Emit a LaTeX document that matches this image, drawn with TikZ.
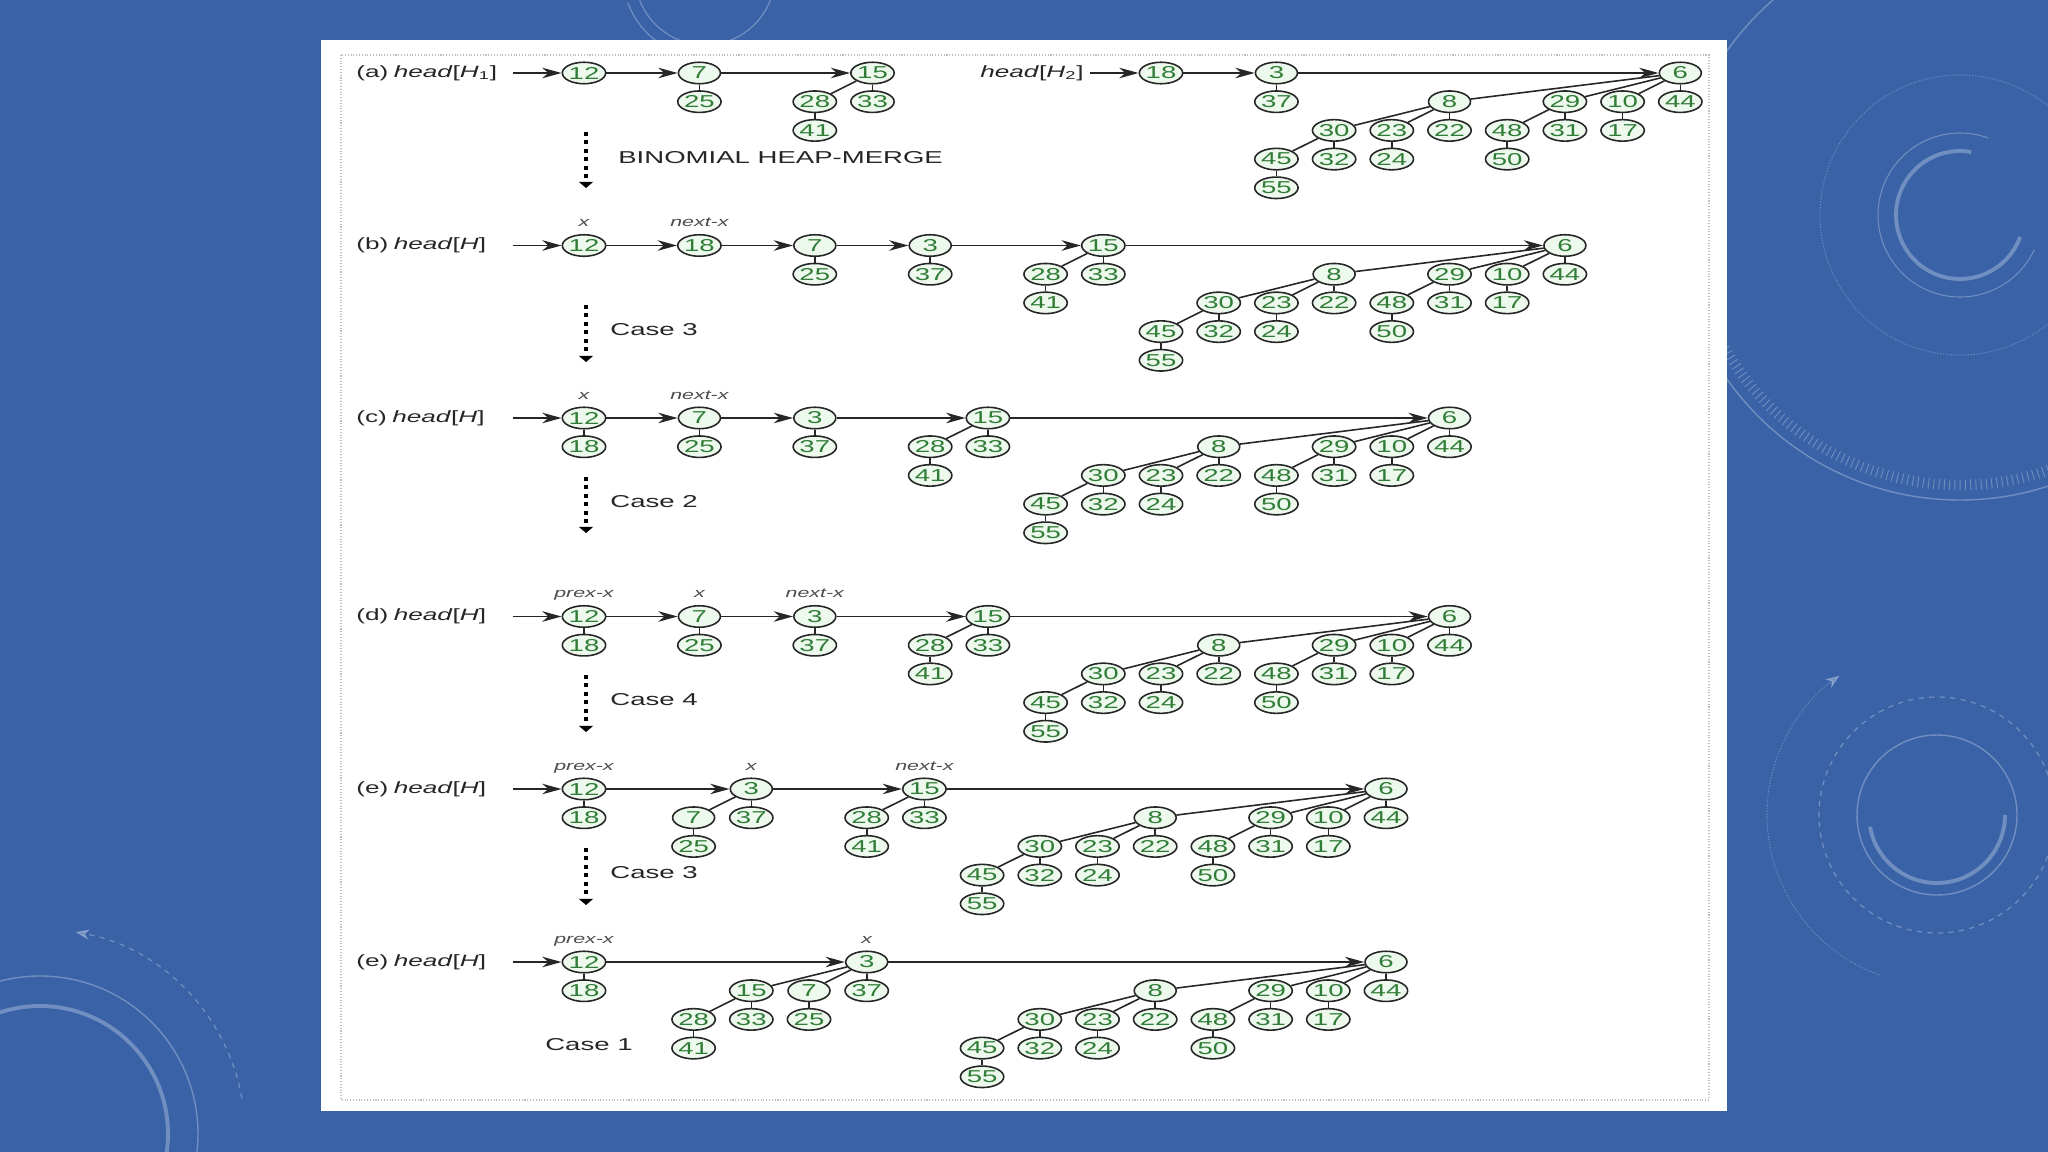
\documentclass[tikz,border=0pt]{standalone}
\usepackage{fontspec}
\setmainfont{Liberation Sans}[FakeStretch=1.6]
\usepackage{tikz}
\usetikzlibrary{positioning}
\usetikzlibrary{shapes.geometric}
\usetikzlibrary{arrows.meta}
\usepackage{xcolor}

\definecolor{slideblue}{RGB}{58,99,167}
\definecolor{keygreen}{RGB}{48,125,55}
\definecolor{keyfill}{RGB}{238,249,238}

\tikzset{
  key/.style={ellipse, draw=black!85, line width=0.9pt, fill=keyfill, text=keygreen,
    minimum width=0.84cm, minimum height=0.43cm, inner sep=0pt,
    font=\fontsize{9.8}{10}\selectfont},
  link/.style={draw=black!85, line width=0.9pt},
  next/.style={link, -{Stealth[length=11pt,width=6pt,inset=3.5pt]}},
  head/.style={anchor=west, text width=3cm, align=left, inner sep=0.12cm,
    font=\fontsize{9.3}{10}\selectfont, text=black!85},
  headtwo/.style={anchor=east, inner sep=0.12cm,
    font=\fontsize{9.3}{10}\selectfont, text=black!85},
  ptr/.style={inner sep=0pt, anchor=base, text=black!70,
    font=\fontsize{7.6}{9}\selectfont\itshape},
  casetext/.style={anchor=west, inner sep=0pt, text=black!85,
    font=\fontsize{9.8}{11}\selectfont},
  merge/.style={line width=2.2pt, dash pattern=on 2.2pt off 2.6pt,
    -{Triangle[length=3.5pt,width=8pt]}},
  deco/.style={draw=white, opacity=0.28}
}

\begin{document}
\begin{tikzpicture}[x=0.02cm, y=-0.02cm]
\useasboundingbox (0,0) rectangle (2048,1152);
\fill[slideblue] (0,0) rectangle (2048,1152);

% slide background
\begin{scope}[deco]
\draw[line width=0.8pt] (1960,215) circle (285);
\draw[line width=6pt, dash pattern=on 0.5pt off 2.5pt] (1960,215) ++(-195:270) arc[start angle=-195, end angle=-320, radius=270];
\draw[line width=0.6pt, densely dotted] (1960,215) circle (140);
\draw[line width=0.6pt] (1960,215) ++(-70:82) arc[start angle=-70, end angle=-335, radius=82];
\draw[line width=2.2pt] (1960,215) ++(-80:64) arc[start angle=-80, end angle=-340, radius=64];
\draw[line width=0.8pt] (1937,815) circle (80);
\draw[line width=2.2pt] (1937,815) ++(-190:68) arc[start angle=-190, end angle=-360, radius=68];
\draw[line width=0.7pt, dashed] (1937,815) circle (118);
\draw[line width=0.6pt, densely dotted, -{Stealth[length=8pt,width=6pt]}] (1937,815) ++(-250:170) arc[start angle=-250, end angle=-125, radius=170];
\draw[line width=2.2pt] (40,1134) circle (128);
\draw[line width=0.8pt] (40,1134) circle (158);
\draw[line width=0.7pt, dashed, -{Stealth[length=8pt,width=6pt]}] (40,1134) ++(-10:205) arc[start angle=-10, end angle=-80, radius=205];
\draw[line width=0.7pt] (705,-25) circle (70);
\draw[line width=0.7pt] (705,-25) ++(-200:82) arc[start angle=-200, end angle=-260, radius=82];
\end{scope}

% panel
\fill[white] (321,40) rectangle (1727,1111);
\draw[black!25, densely dotted, line width=0.6pt] (341,55) rectangle (1709,1100);

% (a)
\node[head] (hA) at (350,73) {(a) \textit{head}[\textit{H}\textsubscript{1}]};
\node[key] (a12) at (584,73) {12};
\node[key] (a7) at (699.4,73) {7};
\node[key] (a25) at (699.4,101.7) {25};
\node[key] (a15) at (872.5,73) {15};
\node[key] (a28) at (814.8,101.7) {28};
\node[key] (a33) at (872.5,101.7) {33};
\node[key] (a41) at (814.8,130.4) {41};
\node[headtwo] (hA2) at (1090,73) {\textit{head}[\textit{H}\textsubscript{2}]};
\node[key] (a18) at (1161,73) {18};
\node[key] (a3) at (1276.4,73) {3};
\node[key] (a37) at (1276.4,101.7) {37};
\draw[next] (hA) -- (a12);
\draw[next] (a12) -- (a7);
\draw[next] (a7) -- (a15);
\draw[next] (hA2) -- (a18);
\draw[next] (a18) -- (a3);
\draw[link] (a7) -- (a25);
\draw[link] (a15) -- (a28);
\draw[link] (a15) -- (a33);
\draw[link] (a28) -- (a41);
\draw[link] (a3) -- (a37);

\coordinate (m1s) at (586,132);
\coordinate (m1e) at (586,188);
\draw[merge] (m1s) -- (m1e);
\node[casetext] (t1) at (618,158) {BINOMIAL HEAP-MERGE};

% (b)
\node[head] (hB) at (350,245.5) {(b) \textit{head}[\textit{H}]};
\node[key] (b12) at (584,245.5) {12};
\node[key] (b18) at (699.4,245.5) {18};
\node[key] (b7) at (814.8,245.5) {7};
\node[key] (b25) at (814.8,274.2) {25};
\node[key] (b3) at (930.2,245.5) {3};
\node[key] (b37) at (930.2,274.2) {37};
\node[key] (b15) at (1103.3,245.5) {15};
\node[key] (b28) at (1045.6,274.2) {28};
\node[key] (b33) at (1103.3,274.2) {33};
\node[key] (b41) at (1045.6,302.9) {41};
\node[ptr, above=4pt of b12, anchor=base] (bx) {x};
\node[ptr, above=4pt of b18, anchor=base] (bnx) {next-x};
\draw[next] (hB) -- (b12);
\draw[next] (b12) -- (b18);
\draw[next] (b18) -- (b7);
\draw[next] (b7) -- (b3);
\draw[next] (b3) -- (b15);
\draw[link] (b7) -- (b25);
\draw[link] (b3) -- (b37);
\draw[link] (b15) -- (b28);
\draw[link] (b15) -- (b33);
\draw[link] (b28) -- (b41);

\coordinate (m2s) at (586,305);
\coordinate (m2e) at (586,362);
\draw[merge] (m2s) -- (m2e);
\node[casetext] (t2) at (610,330) {Case 3};

% (c)
\node[head] (hC) at (350,418) {(c) \textit{head}[\textit{H}]};
\node[key] (c12) at (584,418) {12};
\node[key] (c18) at (584,446.7) {18};
\node[key] (c7) at (699.4,418) {7};
\node[key] (c25) at (699.4,446.7) {25};
\node[key] (c3) at (814.8,418) {3};
\node[key] (c37) at (814.8,446.7) {37};
\node[key] (c15) at (987.9,418) {15};
\node[key] (c28) at (930.2,446.7) {28};
\node[key] (c33) at (987.9,446.7) {33};
\node[key] (c41) at (930.2,475.4) {41};
\node[ptr, above=4pt of c12, anchor=base] (cx) {x};
\node[ptr, above=4pt of c7, anchor=base] (cnx) {next-x};
\draw[next] (hC) -- (c12);
\draw[next] (c12) -- (c7);
\draw[next] (c7) -- (c3);
\draw[next] (c3) -- (c15);
\draw[link] (c12) -- (c18);
\draw[link] (c7) -- (c25);
\draw[link] (c3) -- (c37);
\draw[link] (c15) -- (c28);
\draw[link] (c15) -- (c33);
\draw[link] (c28) -- (c41);

\coordinate (m3s) at (586,477);
\coordinate (m3e) at (586,533);
\draw[merge] (m3s) -- (m3e);
\node[casetext] (t3) at (610,502) {Case 2};

% (d)
\node[head] (hD) at (350,616.5) {(d) \textit{head}[\textit{H}]};
\node[key] (d12) at (584,616.5) {12};
\node[key] (d18) at (584,645.2) {18};
\node[key] (d7) at (699.4,616.5) {7};
\node[key] (d25) at (699.4,645.2) {25};
\node[key] (d3) at (814.8,616.5) {3};
\node[key] (d37) at (814.8,645.2) {37};
\node[key] (d15) at (987.9,616.5) {15};
\node[key] (d28) at (930.2,645.2) {28};
\node[key] (d33) at (987.9,645.2) {33};
\node[key] (d41) at (930.2,673.9) {41};
\node[ptr, above=4pt of d12, anchor=base] (dpx) {prex-x};
\node[ptr, above=4pt of d7, anchor=base] (dx) {x};
\node[ptr, above=4pt of d3, anchor=base] (dnx) {next-x};
\draw[next] (hD) -- (d12);
\draw[next] (d12) -- (d7);
\draw[next] (d7) -- (d3);
\draw[next] (d3) -- (d15);
\draw[link] (d12) -- (d18);
\draw[link] (d7) -- (d25);
\draw[link] (d3) -- (d37);
\draw[link] (d15) -- (d28);
\draw[link] (d15) -- (d33);
\draw[link] (d28) -- (d41);

\coordinate (m4s) at (586,675);
\coordinate (m4e) at (586,732);
\draw[merge] (m4s) -- (m4e);
\node[casetext] (t4) at (610,700) {Case 4};

% (e)
\node[head] (hE) at (350,789) {(e) \textit{head}[\textit{H}]};
\node[key] (e12) at (584,789) {12};
\node[key] (e18) at (584,817.7) {18};
\node[key] (e3) at (751.3,789) {3};
\node[key] (e7) at (693.6,817.7) {7};
\node[key] (e37) at (751.3,817.7) {37};
\node[key] (e25) at (693.6,846.4) {25};
\node[key] (e15) at (924.4,789) {15};
\node[key] (e28) at (866.7,817.7) {28};
\node[key] (e33) at (924.4,817.7) {33};
\node[key] (e41) at (866.7,846.4) {41};
\node[ptr, above=4pt of e12, anchor=base] (epx) {prex-x};
\node[ptr, above=4pt of e3, anchor=base] (ex) {x};
\node[ptr, above=4pt of e15, anchor=base] (enx) {next-x};
\draw[next] (hE) -- (e12);
\draw[next] (e12) -- (e3);
\draw[next] (e3) -- (e15);
\draw[link] (e12) -- (e18);
\draw[link] (e3) -- (e7);
\draw[link] (e3) -- (e37);
\draw[link] (e7) -- (e25);
\draw[link] (e15) -- (e28);
\draw[link] (e15) -- (e33);
\draw[link] (e28) -- (e41);

\coordinate (m5s) at (586,848);
\coordinate (m5e) at (586,905);
\draw[merge] (m5s) -- (m5e);
\node[casetext] (t5) at (610,873) {Case 3};

% (e) again
\node[head] (hF) at (350,962) {(e) \textit{head}[\textit{H}]};
\node[key] (f12) at (584,962) {12};
\node[key] (f18) at (584,990.7) {18};
\node[key] (f3) at (866.7,962) {3};
\node[key] (f15) at (751.3,990.7) {15};
\node[key] (f7) at (809,990.7) {7};
\node[key] (f37) at (866.7,990.7) {37};
\node[key] (f28) at (693.6,1019.4) {28};
\node[key] (f33) at (751.3,1019.4) {33};
\node[key] (f25) at (809,1019.4) {25};
\node[key] (f41) at (693.6,1048.1) {41};
\node[ptr, above=4pt of f12, anchor=base] (fpx) {prex-x};
\node[ptr, above=4pt of f3, anchor=base] (fx) {x};
\draw[next] (hF) -- (f12);
\draw[next] (f12) -- (f3);
\draw[link] (f12) -- (f18);
\draw[link] (f3) -- (f15);
\draw[link] (f3) -- (f7);
\draw[link] (f3) -- (f37);
\draw[link] (f15) -- (f28);
\draw[link] (f15) -- (f33);
\draw[link] (f28) -- (f41);
\draw[link] (f7) -- (f25);
\node[casetext] (t6) at (545,1045) {Case 1};

% the B4 tree rooted at 6, same in every row
\foreach \r/\px/\py/\prev in {a/1680.3/73/a3, b/1564.9/245.5/b15, c/1449.5/418/c15,
    d/1449.5/616.5/d15, e/1386/789/e15, f/1386/962/f3}{
\begin{scope}[shift={(\px,\py)}]
\node[key] (\r6) at (0,0) {6};
\node[key] (\r8) at (-230.8,28.7) {8};
\node[key] (\r29) at (-115.4,28.7) {29};
\node[key] (\r10) at (-57.7,28.7) {10};
\node[key] (\r44) at (0,28.7) {44};
\node[key] (\r30) at (-346.2,57.4) {30};
\node[key] (\r23) at (-288.5,57.4) {23};
\node[key] (\r22) at (-230.8,57.4) {22};
\node[key] (\r48) at (-173.1,57.4) {48};
\node[key] (\r31) at (-115.4,57.4) {31};
\node[key] (\r17) at (-57.7,57.4) {17};
\node[key] (\r45) at (-403.9,86.1) {45};
\node[key] (\r32) at (-346.2,86.1) {32};
\node[key] (\r24) at (-288.5,86.1) {24};
\node[key] (\r50) at (-173.1,86.1) {50};
\node[key] (\r55) at (-403.9,114.8) {55};
\end{scope}
\draw[next] (\prev) -- (\r6);
\draw[link] (\r6) -- (\r8);
\draw[link] (\r6) -- (\r29);
\draw[link] (\r6) -- (\r10);
\draw[link] (\r6) -- (\r44);
\draw[link] (\r8) -- (\r30);
\draw[link] (\r8) -- (\r23);
\draw[link] (\r8) -- (\r22);
\draw[link] (\r29) -- (\r48);
\draw[link] (\r29) -- (\r31);
\draw[link] (\r10) -- (\r17);
\draw[link] (\r30) -- (\r45);
\draw[link] (\r30) -- (\r32);
\draw[link] (\r23) -- (\r24);
\draw[link] (\r48) -- (\r50);
\draw[link] (\r45) -- (\r55);
}
\end{tikzpicture}
\end{document}
